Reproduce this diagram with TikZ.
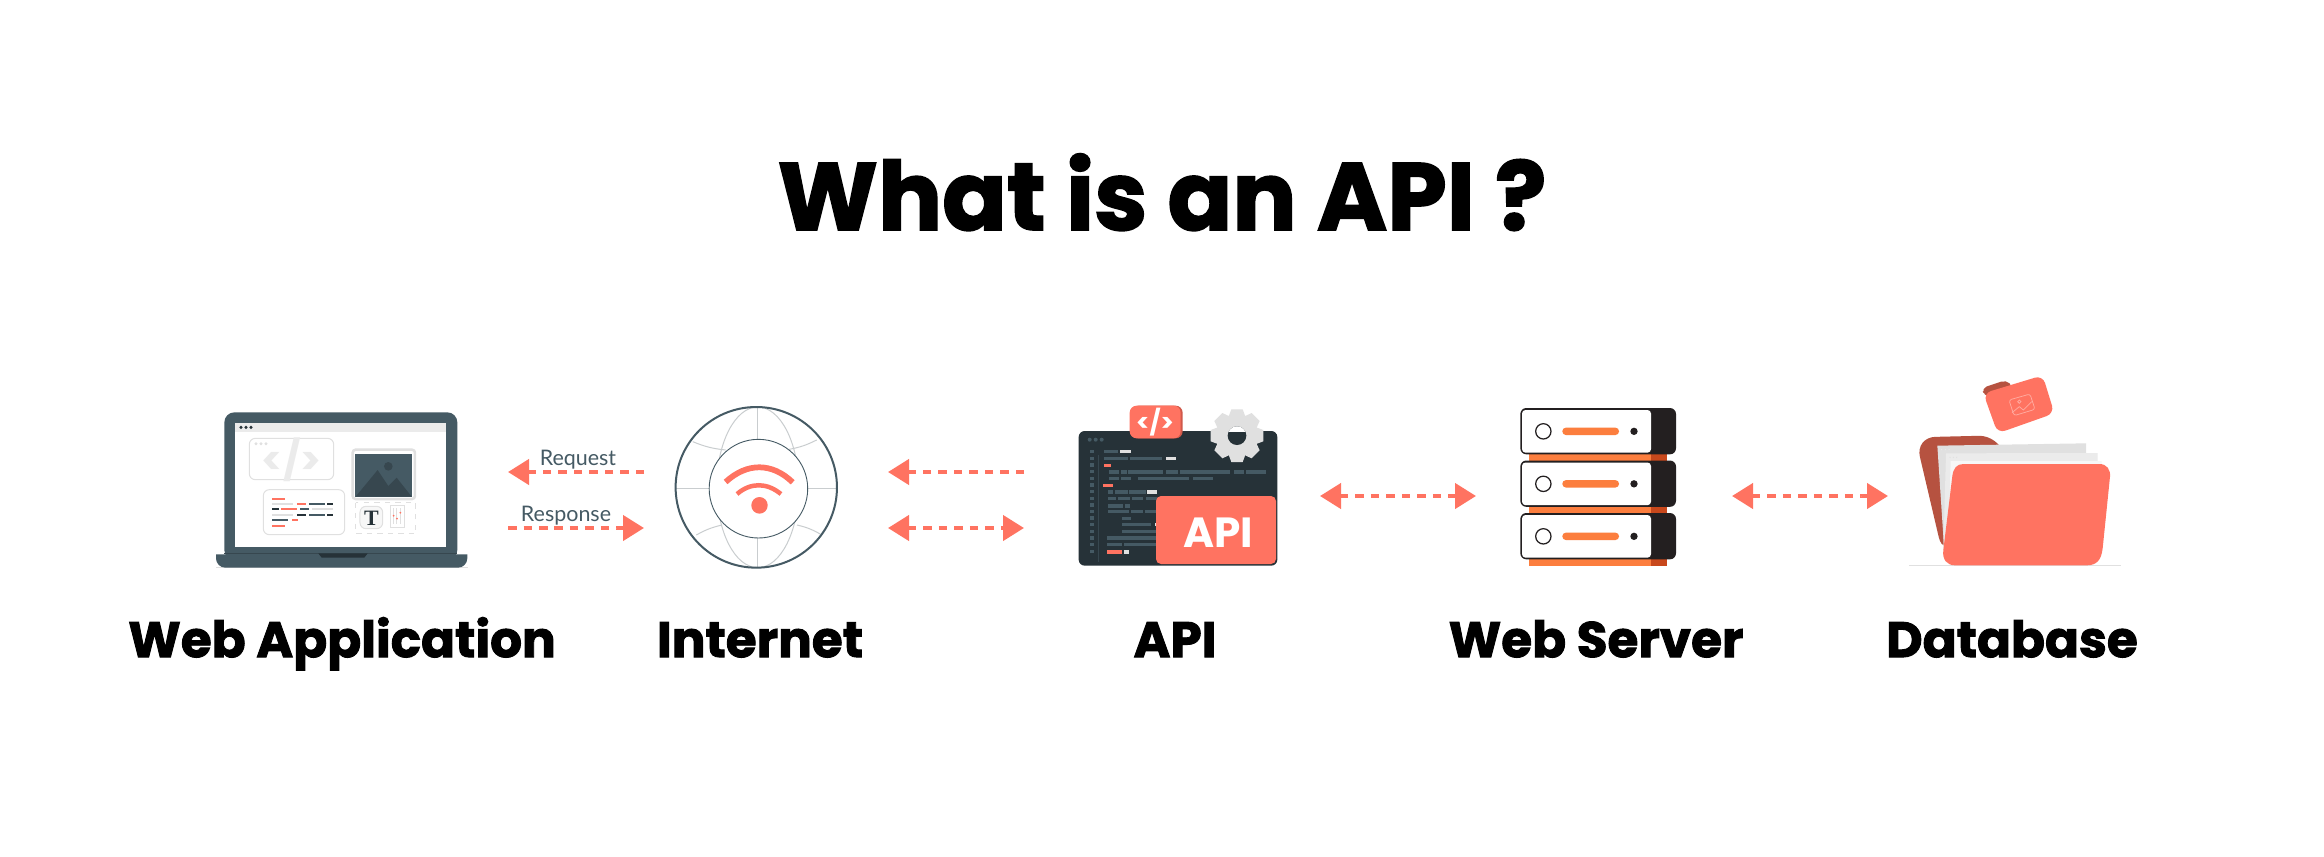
\documentclass[tikz,border=0pt]{standalone}
\usepackage{fontspec}
\usepackage{tikz}
\usetikzlibrary{arrows.meta,positioning}

\newfontfamily\heavyfont[BoldFeatures={FakeBold=1.8}]{Poppins}
\newfontfamily\markfont{Poppins}
\newfontfamily\notefont{Lato}
\newfontfamily\serifont{Liberation Serif}

\definecolor{ApiRed}{HTML}{FF7361}
\definecolor{Slate}{HTML}{455A64}
\definecolor{Ink}{HTML}{263238}
\definecolor{Mount}{HTML}{37474F}
\definecolor{LineGrey}{HTML}{E0E0E0}
\definecolor{PaleGrey}{HTML}{EBEBEB}
\definecolor{GlobeGrey}{HTML}{C9CDCF}
\definecolor{RackInk}{HTML}{231F20}
\definecolor{RackOrange}{HTML}{FC7E3E}
\definecolor{RackBurnt}{HTML}{C8481C}
\definecolor{Flap}{HTML}{B65240}
\definecolor{TagEdge}{HTML}{D0594A}

\tikzset{
  iconbox/.style={shape=rectangle, minimum width=5cm, minimum height=3.4cm, inner sep=0pt},
  heading/.style={font=\heavyfont\bfseries\fontsize{54.3}{60}\selectfont, inner sep=0pt, anchor=base},
  caption/.style={font=\heavyfont\bfseries\fontsize{28.5}{32}\selectfont, text height=0.68cm, text depth=0.2cm, inner sep=0pt},
  note/.style={font=\notefont\fontsize{12.2}{14}\selectfont, text=Slate, inner sep=0pt},
  flow/.style={color=ApiRed, line width=0.085cm, dash pattern=on 0.17cm off 0.14cm},
  flowtip/.tip={Bar[width=0.01pt,line width=0.01pt,white,sep=0.13cm] Triangle[length=0.42cm,width=0.5cm]},
  oneway/.style={flow, -flowtip},
  bothways/.style={flow, flowtip-flowtip},
  zoomed/.style={x=0.00667cm, y=-0.00667cm},
  panel/.style={draw=LineGrey, line width=0.02cm, rounded corners=0.12cm},
}

\begin{document}
\begin{tikzpicture}[x=0.02cm, y=-0.02cm]
  \useasboundingbox (0,0) rectangle (2324,856);
  \fill[white] (0,0) rectangle (2324,856);

  \node[heading] (Title) at (1162,230) {What is an API ?};

  \node[iconbox] (WebApp) at (342,490) {};
  \node[iconbox] (Internet) at (760,490) {};
  \node[iconbox] (ApiBox) at (1175,490) {};
  \node[iconbox] (Server) at (1596,490) {};
  \node[iconbox] (Folder) at (2012,490) {};

  \node[caption] (LblWebApp) [below = 0.95cm of WebApp] {Web Application};
  \node[caption] (LblInternet) [below = 0.95cm of Internet] {Internet};
  \node[caption] (LblApi) [below = 0.95cm of ApiBox] {API};
  \node[caption] (LblServer) [below = 0.95cm of Server] {Web Server};
  \node[caption] (LblFolder) [below = 0.95cm of Folder] {Database};

  \begin{scope}[shift={(190,390)}, zoomed]
    \fill[LineGrey] (78,531) rectangle (834,534);
    \fill[Slate, rounded corners=0.2cm] (103,67) rectangle (802,510);
    \fill[Slate] (78,493) -- (832,493) -- (832,505) arc[start angle=0, end angle=90, radius=28] -- (106,533) arc[start angle=90, end angle=180, radius=28] -- cycle;
    \fill[Mount] (103,490) rectangle (802,493);
    \fill[Ink] (385,490) -- (533,490) -- (523,503) -- (395,503) -- cycle;
    \fill[white] (136,98) rectangle (769,470);
    \fill[PaleGrey] (136,98) rectangle (769,125);
    \foreach \xc in {153,168,183} \fill[Ink] (\xc,112) circle (5);
    \draw[panel] (178,145) rectangle (431,269);
    \foreach \xc in {198,213,228} \fill[LineGrey] (\xc,161) circle (5);
    \node[font=\markfont\bfseries\fontsize{22}{24}\selectfont, text=PaleGrey, inner sep=0pt] (CodeMark) at (305,210) {</>};
    \draw[panel] (220,299) rectangle (464,434);
    \foreach \xa/\xb/\yc/\col in {247/284/326/ApiRed, 247/310/342/LineGrey, 321/348/342/ApiRed, 358/405/342/Slate, 411/430/342/Ink,
        247/266/358/Ink, 272/320/358/ApiRed, 329/357/358/Slate, 367/430/358/LineGrey,
        247/310/375/LineGrey, 321/348/375/Ink, 358/405/375/Slate, 411/430/375/Ink,
        247/295/391/Slate, 306/324/391/ApiRed, 247/284/408/ApiRed}
      \fill[fill=\col] (\xa,\yc-3) rectangle (\xb,\yc+3);
    \draw[LineGrey, line width=0.05cm, rounded corners=0.06cm] (488,179) rectangle (675,327);
    \fill[Slate] (496,191) rectangle (667,320);
    \fill[Mount] (497,320) -- (563,240) -- (595,288) -- (620,263) -- (665,320) -- cycle;
    \fill[Mount] (595,229) circle (13);
    \draw[LineGrey, line width=0.01cm, dashed] (497,338) rectangle (677,431);
    \draw[panel, fill=white!97!black] (510,349) rectangle (578,416);
    \node[font=\serifont\bfseries\fontsize{12.5}{14}\selectfont, text=Ink, inner sep=0pt] (TextMark) at (544,386) {T};
    \draw[LineGrey, line width=0.02cm] (601,347) rectangle (644,412);
    \foreach \xc/\yc in {611/377, 621/386, 631/368} {
      \draw[LineGrey, line width=0.02cm] (\xc,355) -- (\xc,403);
      \fill[ApiRed] (\xc,\yc) circle (3);
    }
  \end{scope}

  \begin{scope}[shift={(490,390)}, x=0.00714cm, y=-0.00667cm]
    \draw[GlobeGrey, line width=0.02cm] (750,292) ellipse [x radius=115, y radius=241];
    \draw[GlobeGrey, line width=0.02cm] (750,52) -- (750,148) (750,444) -- (750,531) (522,295) -- (615,295) (890,295) -- (970,295);
    \draw[GlobeGrey, line width=0.02cm] (568,155) to[bend right=8] (660,180) (838,178) to[bend right=8] (915,150)
      (578,435) to[bend left=8] (650,405) (860,405) to[bend left=8] (925,432);
    \draw[Slate, line width=0.04cm] (746,292) ellipse [x radius=226, y radius=241];
    \draw[Slate, fill=white, line width=0.018cm] (752,296) ellipse [x radius=138, y radius=148];
    \draw[ApiRed, line width=0.115cm] (660,276) .. controls (720,217) and (790,217) .. (848,277);
    \draw[ApiRed, line width=0.09cm] (692,312) .. controls (730,277) and (775,277) .. (815,312);
    \fill[ApiRed] (755,346) ellipse [x radius=23, y radius=25];
  \end{scope}

  \begin{scope}[shift={(1060,390)}, zoomed]
    \fill[Ink, rounded corners=0.12cm] (56,123) rectangle (652,527);
    \foreach \xc in {89,107,125} \fill[Slate] (\xc,149) circle (6);
    \foreach \yc in {185,205,225,245,265,285,305,325,345,365,384,404,424,444,464,485}
      \fill[Slate] (91,\yc-5) rectangle (101,\yc+5);
    \draw[Mount, line width=0.01cm] (115,195) -- (115,515);
    \foreach \xa/\xb/\yc/\col in {132/175/185/Slate, 180/212/185/LineGrey, 132/203/205/Slate, 210/306/205/Slate, 318/349/205/LineGrey,
        132/154/226/ApiRed, 148/178/246/Slate, 183/201/246/Slate, 205/310/246/Slate, 319/355/246/Slate, 360/511/246/Slate, 522/552/246/Slate, 559/618/246/Slate,
        148/178/266/Slate, 183/214/266/Slate, 234/387/266/Slate, 398/459/266/Slate, 129/159/286/ApiRed,
        145/160/306/Slate, 165/203/306/Slate, 208/258/306/Slate, 262/291/306/LineGrey,
        145/168/325/Slate, 173/211/325/Slate, 217/249/325/Slate, 257/290/325/Slate, 145/188/348/Slate, 196/211/348/Slate,
        145/207/365/Slate, 213/250/365/Slate, 256/290/365/Slate, 186/214/386/Slate, 186/272/404/Slate, 285/290/404/LineGrey,
        186/290/424/Slate, 142/290/444/Slate, 142/186/464/Slate, 192/290/464/Slate, 142/185/486/ApiRed, 192/207/486/LineGrey}
      \fill[fill=\col] (\xa,\yc-5) rectangle (\xb,\yc+5);
    \fill[ApiRed, rounded corners=0.1cm] (288,318) rectangle (648,522);
    \node[font=\markfont\bfseries\fontsize{24}{28}\selectfont, text=white, inner sep=0pt] (ApiMark) at (475,427) {API};
    \fill[TagEdge, rounded corners=0.14cm] (215,47) rectangle (368,145);
    \fill[ApiRed, rounded corners=0.14cm] (209,47) rectangle (362,145);
    \node[font=\markfont\bfseries\fontsize{14}{16}\selectfont, text=white, inner sep=0pt] (TagMark) at (285,97) {</>};
    \foreach \ang in {0,45,...,315}
      \fill[LineGrey, rotate around={\ang:(531,137)}] (514,58) -- (548,58) -- (558,85) -- (504,85) -- cycle;
    \fill[LineGrey] (531,137) circle (62);
    \fill[Ink] (531,137) circle (28);
    \begin{scope}
      \clip (500,90) rectangle (562,123);
      \fill[white] (531,137) circle (28);
    \end{scope}
  \end{scope}

  \begin{scope}[shift={(1300,390)}, zoomed]
    \foreach \off in {0,157.5,315} {
      \fill[RackOrange] (686,\off+193) rectangle (1102,\off+212);
      \fill[RackBurnt] (1053,\off+193) rectangle (1102,\off+212);
      \fill[RackInk, rounded corners=0.12cm] (661,\off+54) rectangle (1128,\off+193);
      \fill[white, rounded corners=0.07cm] (666,\off+60) rectangle (1053,\off+188);
      \draw[RackInk, line width=0.025cm] (730,\off+124) circle (23);
      \fill[RackOrange, rounded corners=0.07cm] (787,\off+113) rectangle (957,\off+135);
      \fill[RackInk] (1002,\off+124) circle (11);
    }
  \end{scope}

  \begin{scope}[shift={(1700,360)}, zoomed]
    \fill[LineGrey] (628,615) rectangle (1262,618);
    \fill[Flap, rounded corners=0.4cm] (730,590) -- (646,232) -- (897,226) -- (925,330) -- cycle;
    \fill[LineGrey] (712,257) -- (1158,250) -- (1158,340) -- (732,560) -- cycle;
    \fill[PaleGrey] (738,280) -- (1193,279) -- (1193,340) -- (730,570) -- cycle;
    \fill[white!97!black] (752,303) -- (1205,303) -- (1205,340) -- (745,560) -- cycle;
    \foreach \xc in {725,736,747} \fill[PaleGrey] (\xc,269) circle (2);
    \foreach \xc in {750,760,770} \fill[LineGrey] (\xc,292) circle (2);
    \fill[ApiRed] (790,312) -- (1198,312) .. controls (1220,312) and (1232,328) .. (1230,350)
      -- (1208,565) .. controls (1204,600) and (1190,616) .. (1160,616)
      -- (765,616) .. controls (742,616) and (726,600) .. (730,570)
      -- (757,348) .. controls (760,325) and (770,312) .. (790,312) -- cycle;
    \fill[Flap, rounded corners=0.1cm] (846,84) -- (918,60) -- (940,80) -- (880,110) -- (852,108) -- cycle;
    \fill[ApiRed, rounded corners=0.16cm] (850,100) -- (1028,46) -- (1063,160) -- (893,220) -- cycle;
    \draw[ApiRed!60!white, line width=0.015cm, rounded corners=0.05cm] (927,120) -- (990,102) -- (1005,148) -- (942,167) -- cycle;
    \draw[ApiRed!60!white, line width=0.015cm] (958,125) circle (5) (936,158) -- (958,140) -- (970,150) -- (995,125);
  \end{scope}

  \coordinate (ReqFrom) at (644,472);
  \coordinate (ReqTo) at (508,472);
  \coordinate (RespFrom) at (508,528);
  \coordinate (RespTo) at (644,528);
  \coordinate (NetFrom) at (1024,472);
  \coordinate (NetTo) at (888,472);
  \coordinate (GateL) at (888,528);
  \coordinate (GateR) at (1024,528);
  \coordinate (CallL) at (1320,496);
  \coordinate (CallR) at (1476,496);
  \coordinate (DataL) at (1732,496);
  \coordinate (DataR) at (1888,496);

  \node[note] (Request) at (578,460) {Request};
  \node[note] (Response) at (566,516) {Response};

  \path [oneway] (ReqFrom) edge (ReqTo);
  \path [oneway] (RespFrom) edge (RespTo);
  \path [oneway] (NetFrom) edge (NetTo);
  \path [bothways] (GateL) edge (GateR);
  \path [bothways] (CallL) edge (CallR);
  \path [bothways] (DataL) edge (DataR);
\end{tikzpicture}
\end{document}
